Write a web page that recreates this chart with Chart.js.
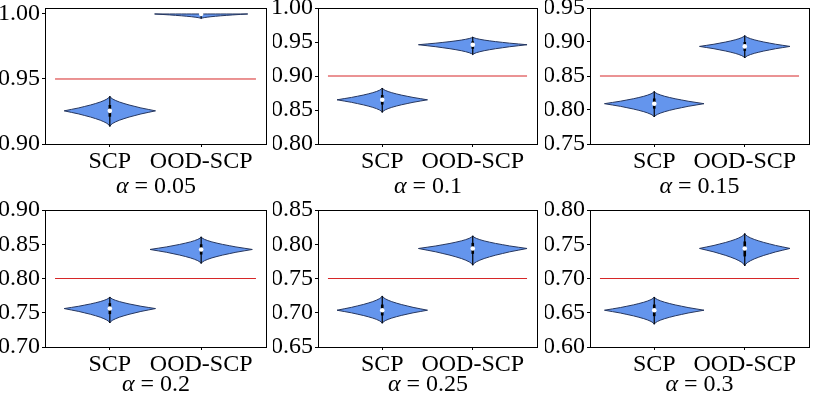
<!DOCTYPE html>
<html lang="en">
<head>
<meta charset="UTF-8">
<title>Coverage violins</title>
<script src="https://cdn.jsdelivr.net/npm/chart.js"></script>
<style>
  html, body { margin: 0; padding: 0; background: #fff; }
  body { width: 814px; height: 395px; position: relative; overflow: hidden; font-family: "Liberation Serif", serif; }
  canvas { position: absolute; }
  .cap { position: absolute; width: 240px; text-align: center; font-size: 24px; line-height: 24px; color: #000; white-space: pre; }
  .cap .eq { margin: 0 6px; }
</style>
</head>
<body>
<script>
const methods = ['SCP', 'OOD-SCP'];
const alphas = [0.05, 0.1, 0.15, 0.2, 0.25, 0.3];
const yMin = [0.90, 0.80, 0.75, 0.70, 0.65, 0.60];
const yMax = [1.0046, 1.00, 0.95, 0.90, 0.85, 0.80];
const yTicks = [
  [0.90, 0.95, 1.00],
  [0.80, 0.85, 0.90, 0.95, 1.00],
  [0.75, 0.80, 0.85, 0.90, 0.95],
  [0.70, 0.75, 0.80, 0.85, 0.90],
  [0.65, 0.70, 0.75, 0.80, 0.85],
  [0.60, 0.65, 0.70, 0.75, 0.80]
];
// [low tip, q1, median, q3, high tip] per panel
const scpStats = [
  [0.9135, 0.9210, 0.9255, 0.9300, 0.9368],
  [0.8465, 0.8580, 0.8650, 0.8720, 0.8824],
  [0.7897, 0.8020, 0.8093, 0.8170, 0.8274],
  [0.7351, 0.7480, 0.7561, 0.7640, 0.7731],
  [0.6846, 0.6960, 0.7037, 0.7120, 0.7246],
  [0.6332, 0.6450, 0.6537, 0.6620, 0.6731]
];
const oodStats = [
  [0.9965, 0.9985, 1.0000, 1.0000, 1.0000],
  [0.9313, 0.9400, 0.9460, 0.9510, 0.9574],
  [0.8765, 0.8870, 0.8935, 0.9000, 0.9097],
  [0.8219, 0.8350, 0.8424, 0.8500, 0.8608],
  [0.7694, 0.7860, 0.7938, 0.8020, 0.8123],
  [0.7184, 0.7322, 0.7439, 0.7541, 0.7658]
];
// widest half-width of each violin (x units)
const scpPeak = [0.50, 0.50, 0.55, 0.50, 0.50, 0.55];
const oodPeak = [0.51, 0.60, 0.50, 0.56, 0.60, 0.50];
// violin outline: relative half-width vs relative distance from median to tip
const profileH = [0, 0.1, 0.2, 0.3, 0.4, 0.5, 0.6, 0.7, 0.8, 0.9, 1.0];
const profileW = [1, 0.84, 0.68, 0.55, 0.42, 0.31, 0.21, 0.13, 0.065, 0.02, 0];
const targetSpan = [-0.6, 1.6];

const FONT = 'Liberation Serif';
const cols = [{left: 0, width: 270, pad: 3}, {left: 273, width: 268, pad: 3}, {left: 545, width: 269, pad: 5}];
const rows = [{top: 0, height: 195, pad: 8, xh: 51, cap: 173}, {top: 200, height: 195, pad: 10, xh: 48, cap: 371}];

function violinOutline(c, s, peak) {
  const lo = s[0], med = s[2], hi = s[4];
  const n = profileH.length;
  const pts = [];
  for (let i = 0; i < n; i++) pts.push({x: c - peak * profileW[i], y: med + profileH[i] * (hi - med)});
  for (let i = n - 2; i >= 0; i--) pts.push({x: c + peak * profileW[i], y: med + profileH[i] * (hi - med)});
  for (let i = 1; i < n; i++) pts.push({x: c + peak * profileW[i], y: med - profileH[i] * (med - lo)});
  for (let i = n - 2; i >= 0; i--) pts.push({x: c - peak * profileW[i], y: med - profileH[i] * (med - lo)});
  return pts;
}

const frame = {
  id: 'frame',
  afterDraw(chart) {
    const {ctx, chartArea: a} = chart;
    ctx.save();
    ctx.strokeStyle = '#000';
    ctx.lineWidth = 1;
    ctx.strokeRect(Math.round(a.left) + 0.5, Math.round(a.top) + 0.5,
      Math.round(a.right) - Math.round(a.left), Math.round(a.bottom) - Math.round(a.top));
    ctx.restore();
  }
};

alphas.forEach((alpha, p) => {
  const col = cols[p % 3], row = rows[Math.floor(p / 3)];
  const cv = document.createElement('canvas');
  cv.width = col.width; cv.height = row.height;
  cv.style.left = col.left + 'px'; cv.style.top = row.top + 'px';
  cv.style.width = col.width + 'px'; cv.style.height = row.height + 'px';
  document.body.appendChild(cv);

  const stats = [scpStats[p], oodStats[p]];
  const peaks = [scpPeak[p], oodPeak[p]];
  const datasets = [];

  datasets.push({
    data: stats.map((s, i) => ({x: i, y: s[2]})),
    pointRadius: 2.3, pointBackgroundColor: '#fff', pointBorderWidth: 0,
    showLine: false, order: 0
  });
  stats.forEach((s, i) => {
    datasets.push({
      data: [{x: i, y: s[1]}, {x: i, y: s[3]}],
      borderColor: '#000', borderWidth: 2.6, pointRadius: 0, showLine: true, order: 1
    });
    datasets.push({
      data: [{x: i, y: s[0]}, {x: i, y: s[4]}],
      borderColor: '#000', borderWidth: 1.2, pointRadius: 0, showLine: true, order: 2
    });
    datasets.push({
      data: violinOutline(i, s, peaks[i]),
      borderColor: '#25365f', borderWidth: 1, backgroundColor: '#6495ed',
      fill: 'shape', pointRadius: 0, showLine: true, tension: 0, order: 3
    });
  });
  datasets.push({
    data: targetSpan.map(x => ({x, y: 1 - alpha})),
    borderColor: '#d62728', borderWidth: 1, pointRadius: 0, showLine: true, order: 4
  });

  new Chart(cv, {
    type: 'scatter',
    data: {datasets},
    plugins: [frame],
    options: {
      responsive: false,
      animation: false,
      devicePixelRatio: 1,
      layout: {padding: {top: row.pad, right: col.pad, left: 0, bottom: 0}},
      plugins: {legend: {display: false}, tooltip: {enabled: false}},
      scales: {
        x: {
          type: 'linear', min: -0.71, max: 1.71,
          afterBuildTicks: s => { s.ticks = [{value: 0}, {value: 1}]; },
          afterFit: s => { s.height = row.xh; s.paddingLeft = 0; s.paddingRight = 0; },
          ticks: {
            autoSkip: false, maxRotation: 0, minRotation: 0, padding: 0,
            color: '#000', font: {family: FONT, size: 24},
            callback: v => methods[v]
          },
          grid: {display: true, drawOnChartArea: false, drawTicks: true, tickLength: 3, tickColor: '#000'},
          border: {display: false}
        },
        y: {
          type: 'linear', min: yMin[p], max: yMax[p],
          afterBuildTicks: s => { s.ticks = yTicks[p].map(v => ({value: v})); },
          afterFit: s => { s.width = 45; s.paddingTop = 0; s.paddingBottom = 0; },
          ticks: {
            autoSkip: false, padding: 2,
            color: '#000', font: {family: FONT, size: 24},
            callback: v => v.toFixed(2)
          },
          grid: {display: true, drawOnChartArea: false, drawTicks: true, tickLength: 3, tickColor: '#000'},
          border: {display: false}
        }
      }
    }
  });

  const cap = document.createElement('div');
  cap.className = 'cap';
  cap.innerHTML = '<i>α</i><span class="eq">=</span>' + alpha;
  const mid = col.left + 45 + (col.width - 45 - col.pad) / 2;
  cap.style.left = (mid - 120) + 'px';
  cap.style.top = row.cap + 'px';
  document.body.appendChild(cap);
});
</script>
</body>
</html>
